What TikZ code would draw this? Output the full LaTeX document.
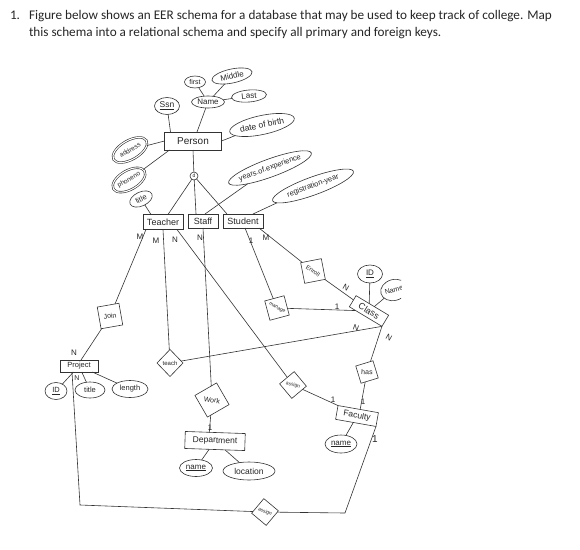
\documentclass[tikz,border=0pt]{standalone}
\usepackage{fontspec}
\setmainfont{Carlito}
\newfontfamily\hand{Liberation Sans}
\usetikzlibrary{shapes.geometric}
\newcommand{\fs}[1]{\hand\fontsize{#1}{#1}\selectfont}
\newcommand{\zt}[1]{\makebox[0pt]{#1}}
\begin{document}
\begin{tikzpicture}[x=1pt,y=-1pt,
  every node/.style={inner sep=0pt, outer sep=0pt, text=black!85},
  ent/.style={draw=black!80, line width=0.6pt, rectangle, font=\fs{9}},
  attr/.style={draw=black!80, line width=0.6pt, ellipse, font=\fs{7.5}},
  dattr/.style={attr, double, double distance=1.1pt},
  rel/.style={draw=black!80, line width=0.6pt, rectangle, font=\fs{6}},
  lbl/.style={font=\fs{8}},
  ln/.style={line width=0.6pt, black!80}]
\fill[white] (0,0) rectangle (580,549);
\useasboundingbox (0,0) rectangle (580,549);

% header
\node[anchor=base west, font=\fontsize{13.2}{15}\selectfont] (num) at (10,19) {1.};
\node[anchor=base west, font=\fontsize{13.2}{15}\selectfont] (h1) at (29,19) {Figure below shows an EER schema for a database that may be used to keep track of college. Map};
\node[anchor=base west, font=\fontsize{13.2}{15}\selectfont] (h2) at (29,36) {this schema into a relational schema and specify all primary and foreign keys.};

% Person and attributes
\node[ent, minimum width=57, minimum height=18, font=\fs{10}] (Person) at (193,141) {Person};
\node[attr, minimum width=25, minimum height=17, font=\fs{8.5}] (Ssn) at (167,106) {\zt{\underline{Ssn}}};
\node[attr, minimum width=33, minimum height=12, font=\fs{8}] (Name) at (208,102) {\zt{Name}};
\node[attr, minimum width=21, minimum height=12, font=\fs{7}] (first) at (195,82) {\zt{first}};
\node[attr, minimum width=41, minimum height=14, rotate=12, font=\fs{8}] (Middle) at (232,76) {\zt{Middle}};
\node[attr, minimum width=35, minimum height=12, rotate=5, font=\fs{8}] (Last) at (249,96) {\zt{Last}};
\node[attr, minimum width=66, minimum height=19, rotate=12, font=\fs{8.5}] (dob) at (262,125) {\zt{date of birth}};
\node[dattr, minimum width=38, minimum height=19, rotate=30, font=\fs{6.5}] (address) at (130,150) {\zt{address}};
\node[dattr, minimum width=36, minimum height=19, rotate=30, font=\fs{6.5}] (phone) at (129,180) {\zt{phoneno}};
\node[attr, minimum width=24, minimum height=14, rotate=25, font=\fs{7.5}] (title) at (141,199) {\zt{title}};
\node[draw=black!80, line width=0.6pt, circle, minimum size=8, font=\fs{5}] (d) at (194,176) {\zt{d}};
\node[attr, minimum width=88, minimum height=18, rotate=20, font=\fs{7.5}] (years) at (270,168) {\zt{years.of.experience}};
\node[attr, minimum width=86, minimum height=18, rotate=20, font=\fs{7.5}] (regyear) at (313,186) {\zt{registration-year}};

% subclasses
\node[ent, minimum width=40, minimum height=15] (Teacher) at (163,222) {\zt{Teacher}};
\node[ent, minimum width=30, minimum height=14] (Staff) at (203,221) {\zt{Staff}};
\node[ent, minimum width=40, minimum height=14] (Student) at (243,221) {\zt{Student}};

% relationships
\node[rel, minimum width=22, minimum height=22, rotate=10, font=\fs{7}] (Join) at (110,316) {\zt{Join}};
\node[draw=black!80, line width=0.6pt, diamond, minimum width=26, minimum height=27, font=\fs{6}] (teach) at (170,363) {\zt{teach}};
\node[rel, minimum width=25, minimum height=25, rotate=30, font=\fs{7}] (work) at (212,400) {\zt{\rotatebox{-40}{Work}}};
\node[rel, minimum width=20, minimum height=20, rotate=15, font=\fs{5}] (manage) at (277,308) {\zt{\rotatebox{-45}{manage}}};
\node[rel, minimum width=21, minimum height=21, rotate=11, font=\fs{6}] (enroll) at (313,271) {\zt{\rotatebox{-45}{Enroll}}};
\node[rel, minimum width=19, minimum height=19, rotate=40, font=\fs{5}] (assign1) at (293,385) {\zt{\rotatebox{-55}{assign}}};
\node[rel, minimum width=18, minimum height=18, rotate=17, font=\fs{7}] (has) at (367,372) {\zt{\rotatebox{-20}{has}}};
\node[rel, minimum width=19, minimum height=19, rotate=50, font=\fs{5}] (assign2) at (265,512) {\zt{\rotatebox{-70}{assign}}};

% entities
\node[ent, minimum width=38, minimum height=13, rotate=-31, font=\fs{9}] (Class) at (369,311) {\zt{Class}};
\node[attr, minimum width=25, minimum height=18, font=\fs{8}] (cid) at (370,274) {\zt{\underline{ID}}};
\begin{scope}
\clip (0,0) rectangle (401,549);
\node[attr, minimum width=27, minimum height=21, rotate=15, font=\fs{7}] (cname) at (394,290) {\zt{Name}};
\end{scope}
\node[ent, minimum width=41, minimum height=14, rotate=-10, font=\fs{8.5}] (Faculty) at (357,416) {\zt{Faculty}};
\node[attr, minimum width=32, minimum height=18, font=\fs{8}] (fname) at (341,444) {\zt{\underline{name}}};
\node[ent, minimum width=60, minimum height=17, rotate=-2, font=\fs{8.5}] (Department) at (215,441) {\zt{Department}};
\node[attr, minimum width=33, minimum height=17, font=\fs{8}] (dname) at (196,468) {\zt{\underline{name}}};
\node[attr, minimum width=52, minimum height=18, font=\fs{8.5}] (location) at (249,471) {\zt{location}};
\node[ent, minimum width=38, minimum height=12, font=\fs{7.5}] (Project) at (79,366) {\zt{Project}};
\node[attr, minimum width=22, minimum height=17, font=\fs{7.5}] (pid) at (56,391) {\zt{\underline{ID}}};
\node[attr, minimum width=30, minimum height=16, font=\fs{7.5}] (ptitle) at (90,390) {\zt{title}};
\node[attr, minimum width=36, minimum height=17, font=\fs{7.5}] (plength) at (130,389) {\zt{length}};

\coordinate (c1) at (80,505);
\coordinate (c2) at (345,513);

% connectors
\draw[ln] ([xshift=6pt]Person.north west) -- (Ssn);
\draw[ln] ([xshift=4pt]Person.north) -- (Name);
\draw[ln] (Name) -- (first);
\draw[ln] (Name) -- (Middle);
\draw[ln] (Name) -- (Last);
\draw[ln] (Person.east) -- (dob);
\draw[ln] (Person.west) -- (address);
\draw[ln] ([xshift=5pt]Person.south west) -- (phone);
\draw[ln] (Person.south) -- (d);
\draw[ln] (d) -- ([xshift=5pt]Teacher.north);
\draw[ln] (d) -- ([xshift=-7pt]Staff.north);
\draw[ln] (d) -- ([xshift=-16pt]Student.north);
\draw[ln] (years) -- ([xshift=2pt]Staff.north);
\draw[ln] (regyear) -- ([xshift=10pt]Student.north);
\draw[ln] (title) -- ([xshift=-12pt]Teacher.north);
\draw[ln] ([xshift=3pt]Teacher.south west) -- (Join);
\draw[ln] (Teacher.south) -- (teach);
\draw[ln] ([xshift=-6pt]Teacher.south east) -- (assign1);
\draw[ln] (Staff.south) -- (work);
\draw[ln] ([xshift=2pt]Student.south) -- (manage);
\draw[ln] ([xshift=-4pt]Student.south east) -- (enroll);
\draw[ln] (enroll) -- (Class);
\draw[ln] (manage) -- (Class);
\draw[ln] (Class.south east) -- (teach);
\draw[ln] (Class.south east) -- (has);
\draw[ln] (Class) -- (cid);
\draw[ln] (Class) -- (cname);
\draw[ln] (has) -- ([xshift=2pt]Faculty.north);
\draw[ln] (assign1) -- (Faculty.north west);
\draw[ln] (Faculty) -- (fname);
\draw[ln] (work) -- ([xshift=-6pt]Department.north);
\draw[ln] (Department) -- (dname);
\draw[ln] (Department) -- (location);
\draw[ln] (Join) -- ([xshift=2pt]Project.north);
\draw[ln] (Project) -- (pid);
\draw[ln] (Project) -- (ptitle);
\draw[ln] (Project) -- (plength);
\draw[ln] ([xshift=-7pt]Project.south) -- (c1) -- (assign2);
\draw[ln] (assign2) -- (c2) -- (Faculty.south east);

% cardinalities
\node[lbl] (lM1) at (140,237) {M};
\node[lbl] (lM2) at (156,241) {M};
\node[lbl] (lN1) at (175,240) {N};
\node[lbl] (lN2) at (200,238) {N};
\node[lbl] (l1a) at (251,241) {1};
\node[lbl] (lM3) at (266,238) {M};
\node[lbl, rotate=-30] (lN3) at (346,288) {N};
\node[lbl] (l1b) at (337,307) {1};
\node[lbl, rotate=-20] (lN4) at (356,328) {N};
\node[lbl, rotate=-30] (lN5) at (389,338) {N};
\node[lbl] (l1c) at (333,400) {1};
\node[lbl] (l1d) at (363,402) {1};
\node[lbl, font=\fs{10}] (l1e) at (375,439) {1};
\node[lbl] (l1f) at (210,428) {1};
\node[lbl] (lN6) at (74,353) {N};
\node[lbl, font=\fs{7}] (lN7) at (77,378) {N};
\end{tikzpicture}
\end{document}
